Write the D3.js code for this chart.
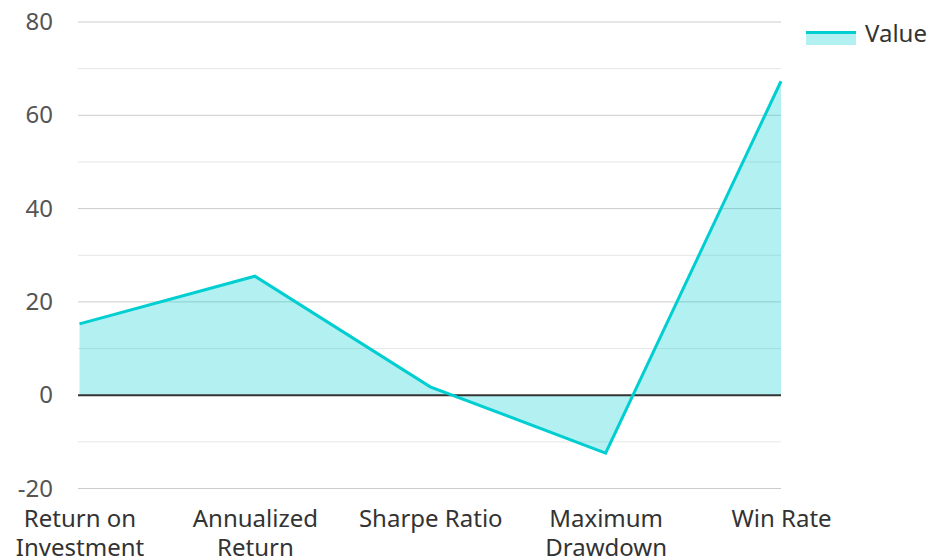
<!DOCTYPE html>
<html><head><meta charset="utf-8">
<script src="https://cdn.jsdelivr.net/npm/d3@7"></script>
<style>body{margin:0;background:#fff;}svg{display:block;font-family:"Noto Sans","Open Sans",sans-serif;}</style>
</head><body>
<svg id="c" width="931" height="560"></svg>
<script>
const categories = ["Return on Investment","Annualized Return","Sharpe Ratio","Maximum Drawdown","Win Rate"];
const categoryLines = [["Return on","Investment"],["Annualized","Return"],["Sharpe Ratio"],["Maximum","Drawdown"],["Win Rate"]];
const values = [15.3, 25.5, 1.8, -12.4, 67.3];
const yTicks = [-20, 0, 20, 40, 60, 80];
const yMinor = [-10, 10, 30, 50, 70];
const seriesName = "Value";

const svg = d3.select("#c");
const x = d3.scalePoint().domain(categories).range([79.5, 781]).padding(0);
const y = d3.scaleLinear().domain([-20, 80]).range([488.5, 22]);
const color = "#00CED1";
const FONT = "'Noto Sans','Open Sans',sans-serif";

// grid
svg.append("g").selectAll("line").data(yMinor).join("line")
  .attr("x1", 78).attr("x2", 781).attr("y1", d => y(d)).attr("y2", d => y(d))
  .attr("stroke", "#e6e6e6").attr("stroke-width", 1);
svg.append("g").selectAll("line").data(yTicks.filter(d => d !== 0)).join("line")
  .attr("x1", 78).attr("x2", 781).attr("y1", d => y(d)).attr("y2", d => y(d))
  .attr("stroke", "#cccccc").attr("stroke-width", 1);

// area
const data = categories.map((c, i) => ({c, v: values[i]}));
svg.append("path").datum(data)
  .attr("d", d3.area().x(d => x(d.c)).y0(y(0)).y1(d => y(d.v)))
  .attr("fill", color).attr("fill-opacity", 0.3);

// zero line
svg.append("line").attr("x1", 78).attr("x2", 781).attr("y1", y(0)).attr("y2", y(0))
  .attr("stroke", "#333").attr("stroke-width", 2);

// line
svg.append("path").datum(data)
  .attr("d", d3.line().x(d => x(d.c)).y(d => y(d.v)))
  .attr("fill", "none").attr("stroke", color).attr("stroke-width", 3);

// y axis
const ya = svg.append("g").attr("transform", "translate(78,0)")
  .call(d3.axisLeft(y).tickValues(yTicks).tickSize(0).tickPadding(25).tickFormat(d => String(d)));
ya.select(".domain").remove();
ya.selectAll("text").attr("font-size", 24).attr("fill", "#555").attr("font-family", FONT);

// x axis
const xa = svg.append("g").attr("transform", "translate(0,489)")
  .call(d3.axisBottom(x).tickSize(0).tickFormat(""));
xa.select(".domain").remove();
xa.selectAll(".tick").each(function(d, i) {
  const t = d3.select(this).append("text").attr("fill", "#333").attr("font-size", 24)
    .attr("text-anchor", "middle").attr("font-family", FONT);
  categoryLines[i].forEach((ln, j) => {
    t.append("tspan").attr("x", 0).attr("y", 38 + j * 29).text(ln);
  });
});

// legend
const lg = svg.append("g");
lg.append("rect").attr("x", 806).attr("y", 33).attr("width", 50).attr("height", 12)
  .attr("fill", color).attr("fill-opacity", 0.3);
lg.append("line").attr("x1", 806).attr("x2", 856).attr("y1", 32.5).attr("y2", 32.5)
  .attr("stroke", color).attr("stroke-width", 3);
lg.append("text").attr("x", 865).attr("y", 41.5).attr("font-size", 24).attr("fill", "#333")
  .attr("font-family", FONT).text(seriesName);
</script>
</body></html>
